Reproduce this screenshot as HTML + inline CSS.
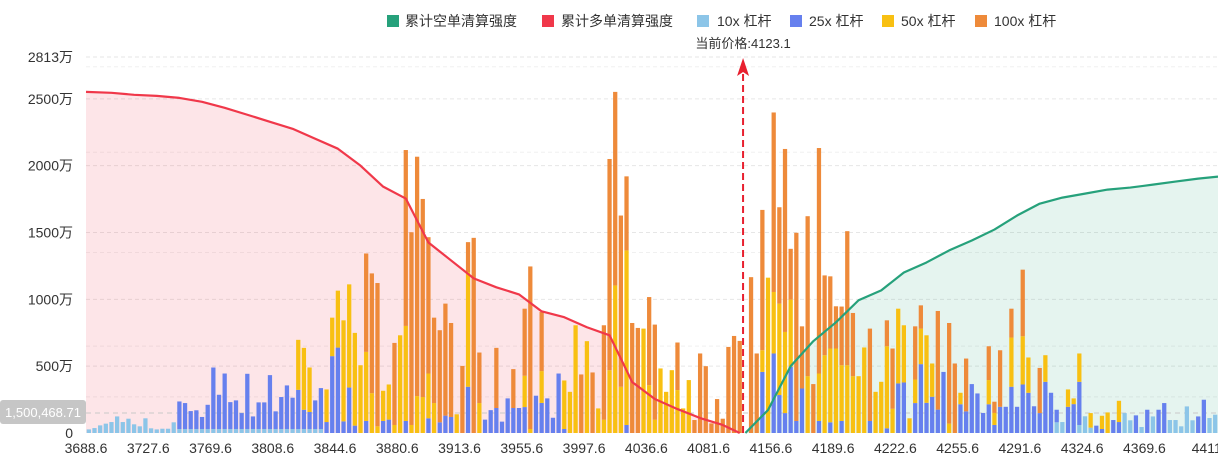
<!DOCTYPE html>
<html><head><meta charset="utf-8">
<style>
html,body{margin:0;padding:0;background:#fff;}
body{width:1218px;height:455px;overflow:hidden;position:relative;font-family:"Liberation Sans","Noto Sans CJK SC",sans-serif;}
.lg{position:absolute;top:12px;font-size:14px;color:#333;white-space:nowrap;line-height:18px;}
.sq{position:absolute;top:15px;width:12px;height:12px;}
</style></head>
<body>
<div class="sq" style="left:387px;background:#26a17b"></div>
<div class="lg" style="left:405px">累计空单清算强度</div>
<div class="sq" style="left:542px;background:#f0384a"></div>
<div class="lg" style="left:561px">累计多单清算强度</div>
<div class="sq" style="left:697px;background:#8cc5e8"></div>
<div class="lg" style="left:717px">10x 杠杆</div>
<div class="sq" style="left:790px;background:#6680ee"></div>
<div class="lg" style="left:809px">25x 杠杆</div>
<div class="sq" style="left:882px;background:#f8c012"></div>
<div class="lg" style="left:901px">50x 杠杆</div>
<div class="sq" style="left:975px;background:#ee8a3a"></div>
<div class="lg" style="left:994px">100x 杠杆</div>

<svg id="chart" width="1218" height="455" style="position:absolute;left:0;top:0" xmlns="http://www.w3.org/2000/svg"></svg>

<script>
const categoryLabels = ["3688.6","3727.6","3769.6","3808.6","3844.6","3880.6","3913.6","3955.6","3997.6","4036.6","4081.6","4156.6","4189.6","4222.6","4255.6","4291.6","4324.6","4369.6","4411"];
const yTicks = [0,500,1000,1500,2000,2500,2813];
const markLine = 150.046871;
const markLabel = "1,500,468.71";
const currentPriceIndex = 116;
const currentPriceLabel = "当前价格:4123.1";

const lev10 = [
27,37,57,70,82,124,82,107,65,50,
110,35,27,32,32,80,30,30,30,30,
30,30,30,30,30,30,30,30,30,30,
30,30,30,30,30,30,30,30,30,30,
30,30,0,0,0,0,0,0,0,0,
0,0,0,0,0,0,0,0,0,0,
0,0,0,0,0,0,0,0,0,0,
0,0,0,0,0,0,0,0,0,0,
0,0,0,0,0,0,0,0,0,0,
0,0,0,0,0,0,0,0,0,0,
0,0,0,0,0,0,0,0,0,0,
0,0,0,0,0,0,0,0,0,0,
0,0,0,0,0,0,0,0,0,0,
0,0,0,0,0,0,0,0,0,0,
0,0,0,0,0,0,0,0,0,0,
0,0,0,0,0,0,0,0,0,0,
0,0,0,0,0,0,0,0,0,0,
0,80,82,0,0,60,125,40,0,0,
0,0,0,149,95,0,45,0,124,0,
0,97,97,50,199,95,0,0,112,137];
const lev25 = [
0,0,0,0,0,0,0,0,0,0,
0,0,0,0,0,0,206,194,134,140,
90,181,460,256,415,201,214,119,413,94,
199,199,403,132,239,326,234,293,144,127,
214,306,82,575,639,87,340,55,0,90,
0,0,90,100,0,0,90,0,0,0,
110,0,80,130,120,0,0,346,0,0,
100,171,187,85,259,187,187,194,0,279,
225,259,114,445,30,0,0,0,0,0,
0,0,0,0,0,60,0,0,0,0,
0,0,0,0,0,0,0,0,0,0,
0,0,0,0,0,0,0,0,0,457,
0,595,284,149,495,90,333,0,0,90,
0,80,0,90,0,0,0,0,90,0,
0,35,0,371,378,0,224,515,226,271,
175,457,0,0,215,162,366,296,150,215,
60,196,196,346,196,363,301,200,149,383,
301,94,0,196,216,323,0,0,55,30,
0,97,82,0,0,132,0,174,0,174,
224,0,0,0,0,0,124,249,0,0];
const lev50 = [
0,0,0,0,0,0,0,0,0,0,
0,0,0,0,0,0,0,0,0,0,
0,0,0,0,0,0,0,0,0,0,
0,0,0,0,0,0,0,374,463,333,
0,0,244,288,426,756,772,694,507,517,
298,50,226,263,60,731,711,60,276,269,
335,224,0,0,0,140,0,858,0,224,
0,0,0,0,0,0,0,234,30,0,
238,0,0,0,363,308,806,0,687,0,
184,100,470,1104,346,1306,0,0,781,358,
100,483,308,470,321,184,396,0,0,0,
0,0,0,0,0,0,0,0,0,162,
1162,460,684,607,503,0,0,425,0,355,
582,552,632,417,507,425,425,640,0,308,
383,614,181,559,428,110,176,266,505,249,
0,0,70,0,86,0,0,0,0,181,
90,0,0,368,0,361,264,0,0,199,
0,0,0,130,43,212,0,109,0,99,
154,0,159,0,0,0,0,0,0,0,
0,0,0,0,0,0,0,0,0,0];
const lev100 = [
0,0,0,0,0,0,0,0,0,0,
0,0,0,0,0,0,0,0,0,0,
0,0,0,0,0,0,0,0,0,0,
0,0,0,0,0,0,0,0,0,0,
0,0,0,0,0,0,0,0,0,736,
896,1072,0,0,614,0,1316,1442,1791,1482,
1020,639,689,838,703,0,502,224,1460,378,
0,0,450,0,0,291,0,502,1216,0,
442,0,0,0,0,0,0,438,0,453,
0,706,1580,1448,1281,554,823,786,0,659,
711,0,0,0,356,0,0,97,595,500,
72,254,107,644,726,689,0,1166,595,1050,
0,1343,721,1369,380,1408,465,1197,366,1687,
597,540,316,439,1003,473,0,0,691,0,
0,194,451,0,0,0,398,174,0,0,
738,0,753,520,0,395,0,0,0,253,
84,423,0,216,0,498,0,0,338,0,
0,0,0,0,0,0,0,0,0,0,
0,0,0,0,0,0,0,0,0,0,
0,0,0,0,0,0,0,0,0,0];

const longLineIdx = [0,4,8,12,16,20,24,28,32,36,40,44,48,52,56,60,64,68,72,76,80,84,88,92,96,100,104,108,112,115];
const longLineVal = [2552,2545,2530,2522,2507,2478,2433,2381,2328,2276,2201,2127,2000,1843,1754,1425,1291,1157,1090,1037,910,866,791,731,381,254,179,112,60,0];
const shortLineIdx = [116,120,124,128,132,136,140,144,148,152,156,160,164,168,172,176,180,184,188,192,196,199];
const shortLineVal = [0,172,500,687,828,993,1067,1201,1276,1366,1440,1522,1627,1716,1761,1791,1821,1836,1858,1881,1903,1918];

const NS = "http://www.w3.org/2000/svg";
const svg = document.getElementById("chart");
const X0 = 86, X1 = 1218, Y0 = 433, YMAX = 2813, YTOP = 57;
const N = lev10.length;
const bw = (X1 - X0) / N;
const xBand = i => X0 + i * bw;
const xMid = i => X0 + (i + 0.5) * bw;
const yS = v => Y0 - v * (Y0 - YTOP) / YMAX;

function mk(tag, attrs, parent) {
  const e = document.createElementNS(NS, tag);
  for (const k in attrs) e.setAttribute(k, attrs[k]);
  (parent || svg).appendChild(e);
  return e;
}

// gridlines
const grid = mk("g", {});


yTicks.forEach(t => {
  if (t === 0) return;
  mk("line", {x1: X0, x2: X1, y1: yS(t), y2: yS(t), stroke: "#e6e6e6", "stroke-dasharray": "4 3", "stroke-width": 1}, grid);
});
[2740, 2100, 1350, 650, 270].forEach(t => {
  mk("line", {x1: X0, x2: X1, y1: yS(t), y2: yS(t), stroke: "#f0f0f0", "stroke-dasharray": "4 3", "stroke-width": 1}, grid);
});

// area fills
function linePts(idx, val) { return idx.map((ix, k) => [xMid(ix), yS(val[k])]); }
const lp = linePts(longLineIdx, longLineVal);
const sp = linePts(shortLineIdx, shortLineVal);
lp[0][0] = X0;
sp[sp.length - 1][0] = X1;
const longArea = mk("path", {d: "M" + X0 + "," + Y0 + " L" + lp.map(p => p.join(",")).join(" L") + " Z", fill: "rgba(240,56,74,0.13)"});


const shortArea = mk("path", {d: "M" + sp[0][0] + "," + Y0 + " L" + sp.map(p => p.join(",")).join(" L") + " L" + X1 + "," + Y0 + " Z", fill: "rgba(38,161,123,0.12)"});



// mark line 1,500,468.71
const ml = mk("line", {x1: X0, x2: X1, y1: yS(markLine), y2: yS(markLine), stroke: "#c9c9c9", "stroke-dasharray": "5 4", "stroke-width": 1});



// bars
const colors = ["#8cc5e8", "#6680ee", "#f8c012", "#ee8a3a"];
const series = [lev10, lev25, lev50, lev100];
const barsG = mk("g", {});


for (let i = 0; i < N; i++) {
  let base = 0;
  series.forEach((s, k) => {
    const v = s[i];
    if (v > 0) {
      const r = mk("rect", {x: (xBand(i) + 0.7).toFixed(2), y: yS(base + v).toFixed(2), width: (bw - 1.4).toFixed(2), height: (yS(base) - yS(base + v)).toFixed(2), fill: colors[k]}, barsG);
      
      
    }
    base += v;
  });
}

// lines
const longL = mk("polyline", {points: lp.map(p => p.join(",")).join(" "), fill: "none", stroke: "#f0384a", "stroke-width": 2.2, "stroke-linejoin": "round"});


const shortL = mk("polyline", {points: sp.map(p => p.join(",")).join(" "), fill: "none", stroke: "#26a17b", "stroke-width": 2.2, "stroke-linejoin": "round"});



// current price marker
const cx = xBand(currentPriceIndex) + 0.5;
const cpl = mk("line", {x1: cx, x2: cx, y1: Y0, y2: 72, stroke: "#e8202f", "stroke-width": 2, "stroke-dasharray": "7 4"});


const arr = mk("path", {d: `M${cx},58 L${cx - 6},76 L${cx},72 L${cx + 6},76 Z`, fill: "#e8202f"});


const cpt = mk("text", {x: cx, y: 48, "text-anchor": "middle", "font-size": 13, fill: "#333"});
cpt.textContent = currentPriceLabel;



// y axis labels
yTicks.forEach(t => {
  const tx = mk("text", {x: 73, y: yS(t) + 5, "text-anchor": "end", "font-size": 14, fill: "#333"});
  tx.textContent = t === 0 ? "0" : t + "万";
  
  
});

// x axis labels
categoryLabels.forEach((lab, k) => {
  const tx = mk("text", {x: xBand(k * 11), y: 453, "text-anchor": "middle", "font-size": 14, fill: "#333"});
  tx.textContent = lab;
  
  
});

// mark label box
const mb = mk("rect", {x: 0, y: yS(markLine) - 13, width: 86, height: 24, rx: 3, fill: "#c6c6c6"});


const mt = mk("text", {x: 43, y: yS(markLine) + 4, "text-anchor": "middle", "font-size": 13, fill: "#fff"});
mt.textContent = markLabel;


</script>
</body></html>
